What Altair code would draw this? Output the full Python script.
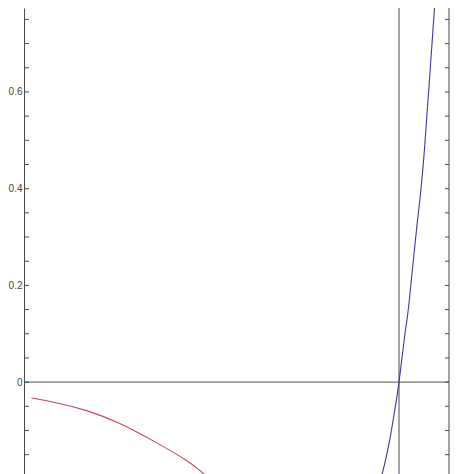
import altair as alt
import pandas as pd

# y tick labels and minor tick positions
major_ticks = [0, 0.2, 0.4, 0.6]
all_ticks = [-0.15, -0.1, -0.05, 0, 0.05, 0.1, 0.15, 0.2, 0.25, 0.3, 0.35, 0.4,
             0.45, 0.5, 0.55, 0.6, 0.65, 0.7, 0.75]

# red curve
red_x = [-2.94, -2.77, -2.50, -2.23, -1.97, -1.70, -1.57, -1.47]
red_y = [-0.033, -0.041, -0.059, -0.086, -0.121, -0.162, -0.188, -0.210]

# blue curve
blue_x = [-0.170, -0.133, -0.074, -0.034, 0.0, 0.048, 0.080, 0.142, 0.203, 0.288, 0.304]
blue_y = [-0.213, -0.188, -0.119, -0.058, 0.0, 0.101, 0.163, 0.320, 0.479, 0.789, 0.81]

W, H = 425, 470
xdom = [-3, 0.4]
ydom = [-0.1983, 0.7736]

xs = alt.Scale(domain=xdom, nice=False, zero=False)
ys = alt.Scale(domain=ydom, nice=False, zero=False)

red = pd.DataFrame({"x": red_x, "y": red_y})
blue = pd.DataFrame({"x": blue_x, "y": blue_y})
ticks = pd.DataFrame({"t": all_ticks})

AX = "#4a4a4a"

base_axis = alt.Chart(pd.DataFrame({"t": [0]})).mark_rule(
    color=AX, strokeWidth=1
).encode(
    y=alt.Y("t:Q", scale=ys, axis=alt.Axis(values=major_ticks, ticks=False, domain=True,
                                            domainColor=AX, labelColor="#444",
                                            labelFont="Liberation Sans", labelFontSize=10,
                                            labelPadding=2, grid=False, title=None,
                                            format="~g", labelFlush=False)),
)

vline = alt.Chart(pd.DataFrame({"x": [0]})).mark_rule(color=AX, strokeWidth=1).encode(
    x=alt.X("x:Q", scale=xs, axis=None)
)

right_frame = alt.Chart(pd.DataFrame({"x": [0]})).mark_rule(color=AX, strokeWidth=1).encode(
    x=alt.value(W), y=alt.value(0), y2=alt.value(H)
)

left_ticks = alt.Chart(ticks).mark_rule(color=AX, strokeWidth=1).encode(
    y=alt.Y("t:Q", scale=ys), x=alt.value(0), x2=alt.value(5)
)
right_ticks = alt.Chart(ticks).mark_rule(color=AX, strokeWidth=1).encode(
    y=alt.Y("t:Q", scale=ys), x=alt.value(W - 4), x2=alt.value(W)
)

red_line = alt.Chart(red).mark_line(color="#c04a55", strokeWidth=1.1, clip=True,
                                    interpolate="natural").encode(
    x=alt.X("x:Q", scale=xs), y=alt.Y("y:Q", scale=ys)
)
blue_line = alt.Chart(blue).mark_line(color="#3838a0", strokeWidth=1.1, clip=True,
                                      interpolate="natural").encode(
    x=alt.X("x:Q", scale=xs), y=alt.Y("y:Q", scale=ys)
)

chart = alt.layer(
    base_axis, vline, right_frame, left_ticks, right_ticks, red_line, blue_line
).resolve_scale(x="shared", y="shared").properties(
    width=W, height=H,
    autosize=alt.AutoSizeParams(type="none"),
    padding={"left": 16, "top": 0, "right": 10, "bottom": 0},
).configure_view(stroke=None)

chart.save("out.html", embed_options={"renderer": "svg", "actions": False})
